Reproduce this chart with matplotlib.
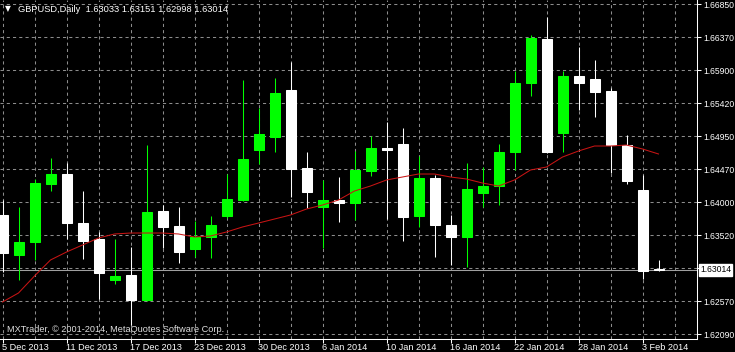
import matplotlib.pyplot as plt
import numpy as np

plt.rcParams['font.family'] = ['Liberation Sans', 'DejaVu Sans']

# daily bars, 5 Dec 2013 .. 4 Feb 2014
opens = [1.63807, 1.63230, 1.63417, 1.64254, 1.64398, 1.63691, 1.63460, 1.62869, 1.62941, 1.62581,
         1.63865, 1.63648, 1.63316, 1.63490, 1.63792, 1.64023, 1.64744, 1.64932, 1.65610, 1.64485,
         1.63922, 1.64023, 1.63980, 1.64442, 1.64773, 1.64831, 1.63792, 1.64341, 1.63663, 1.63490,
         1.64124, 1.64225, 1.64716, 1.65711, 1.66345, 1.64990, 1.65812, 1.65769, 1.65595, 1.64816,
         1.64167, 1.63033]
highs = [1.64023, 1.63922, 1.64326, 1.64629, 1.64557, 1.64153, 1.63562, 1.63460, 1.63345, 1.64816,
         1.63951, 1.63922, 1.63720, 1.63792, 1.64398, 1.65754, 1.65350, 1.65783, 1.66014, 1.64716,
         1.64312, 1.64355, 1.64730, 1.64946, 1.65148, 1.65062, 1.64658, 1.64384, 1.63807, 1.64557,
         1.64499, 1.64831, 1.65884, 1.66403, 1.66663, 1.65884, 1.66230, 1.66043, 1.65639, 1.64961,
         1.64384, 1.63151]
lows = [1.62985, 1.62869, 1.63158, 1.64153, 1.63460, 1.63172, 1.62595, 1.62812, 1.62220, 1.62566,
        1.63331, 1.63115, 1.63201, 1.63187, 1.63764, 1.64009, 1.64542, 1.64716, 1.64067, 1.63908,
        1.63331, 1.63706, 1.63735, 1.64369, 1.63749, 1.63432, 1.63634, 1.63201, 1.63086, 1.63057,
        1.63922, 1.63951, 1.64456, 1.65523, 1.64701, 1.64716, 1.65321, 1.65220, 1.64413, 1.64254,
        1.62884, 1.62998]
closes = [1.63259, 1.63417, 1.64268, 1.64398, 1.63691, 1.63432, 1.62970, 1.62927, 1.62581, 1.63850,
          1.63634, 1.63273, 1.63490, 1.63663, 1.64038, 1.64615, 1.64975, 1.65567, 1.64470, 1.64139,
          1.64023, 1.63980, 1.64456, 1.64773, 1.64744, 1.63778, 1.64341, 1.63663, 1.63490, 1.64182,
          1.64225, 1.64716, 1.65711, 1.66360, 1.64716, 1.65812, 1.65711, 1.65581, 1.64816, 1.64297,
          1.62999, 1.63014]
ma = [1.62552, 1.62682, 1.62927, 1.63158, 1.63273, 1.63374, 1.63475, 1.63533, 1.63547, 1.63547,
      1.63547, 1.63533, 1.63490, 1.63504, 1.63562, 1.63634, 1.63691, 1.63749, 1.63807, 1.63893,
      1.63951, 1.64023, 1.64153, 1.64225, 1.64312, 1.64355, 1.64398, 1.64398, 1.64355, 1.64326,
      1.64268, 1.64225, 1.64312, 1.64456, 1.64499, 1.64643, 1.64730, 1.64802, 1.64802, 1.64816,
      1.64759, 1.64687]

date_labels = ['5 Dec 2013', '11 Dec 2013', '17 Dec 2013', '23 Dec 2013', '30 Dec 2013',
               '6 Jan 2014', '10 Jan 2014', '16 Jan 2014', '22 Jan 2014', '28 Jan 2014',
               '3 Feb 2014']
price_ticks = [1.62090, 1.62566, 1.63042, 1.63518, 1.63994, 1.64470, 1.64946, 1.65422,
               1.65898, 1.66374, 1.66850]
# the 1.63040 label sits under the last-price box
price_labels = ['1.62090', '1.62570', '', '1.63520', '1.64000', '1.64470', '1.64950',
                '1.65420', '1.65900', '1.66370', '1.66850']
last_price = 1.63014

o = np.array(opens)
c = np.array(closes)
x = np.arange(len(o))
colors = np.where(c >= o, '#00ff00', 'white')

fig = plt.figure(figsize=(7.35, 3.52), dpi=100, facecolor='black')
ax = fig.add_axes([0, 13 / 352, 697 / 735, 339 / 352])
ax.set_facecolor('black')

# grid
ax.set_axisbelow(True)
ax.set_xticks(np.arange(0, 44, 4))
ax.set_xticks(np.arange(0, 44, 2), minor=True)
ax.set_xticklabels(date_labels, ha='left')
ax.set_yticks(price_ticks)
ax.set_yticklabels(price_labels)
ax.grid(which='both', axis='x', color='#8c8c8c', linestyle=(0, (3, 3)), linewidth=0.75)
ax.grid(which='major', axis='y', color='#8c8c8c', linestyle=(0, (3, 3)), linewidth=0.75)
ax.axhline(last_price, color='#a0a0a0', linewidth=0.75, zorder=1)

# candles
ax.vlines(x, lows, highs, colors=colors, linewidth=0.75, zorder=2)
ax.bar(x, np.abs(c - o), bottom=np.minimum(o, c), width=0.625, color=colors,
       edgecolor=colors, linewidth=0.75, zorder=3)

# moving average
ax.plot(x, ma, color='#c81414', linewidth=0.75, zorder=4)

ax.set_xlim(-2.5 / 16, 694.5 / 16)
ax.set_ylim(1.66908 - 339 * 0.00014424, 1.66908)

for s in ['left', 'top']:
    ax.spines[s].set_visible(False)
for s in ['right', 'bottom']:
    ax.spines[s].set_color('white')
    ax.spines[s].set_linewidth(0.75)

ax.yaxis.tick_right()
ax.tick_params(axis='y', which='major', colors='white', labelsize=6.2, length=3, width=0.75, pad=1.5)
ax.tick_params(axis='x', which='major', colors='white', labelsize=6.6, length=3, width=0.75, pad=0)
ax.tick_params(axis='x', which='minor', length=0)

ax.annotate('%.5f' % last_price, xy=(1, last_price), xycoords=('axes fraction', 'data'),
            xytext=(3, 0), textcoords='offset pixels', va='center', ha='left',
            fontsize=6.2, color='black', annotation_clip=False, zorder=10,
            bbox=dict(boxstyle='square,pad=0.15', fc='white', ec='white'))

fig.text(5 / 735, 1 - 9 / 352, '\u25bc', color='white', fontsize=5.5, va='center',
         family=['DejaVu Sans'])
fig.text(18 / 735, 1 - 9 / 352, 'GBPUSD,Daily  1.63033 1.63151 1.62998 1.63014',
         color='white', fontsize=6.7, va='center')
fig.text(7 / 735, 1 - 330 / 352, 'MXTrader, \u00a9 2001-2014, MetaQuotes Software Corp.',
         color='#e0e0e0', fontsize=6.6, va='center')

fig.savefig('out.png', dpi=100, facecolor='black')
